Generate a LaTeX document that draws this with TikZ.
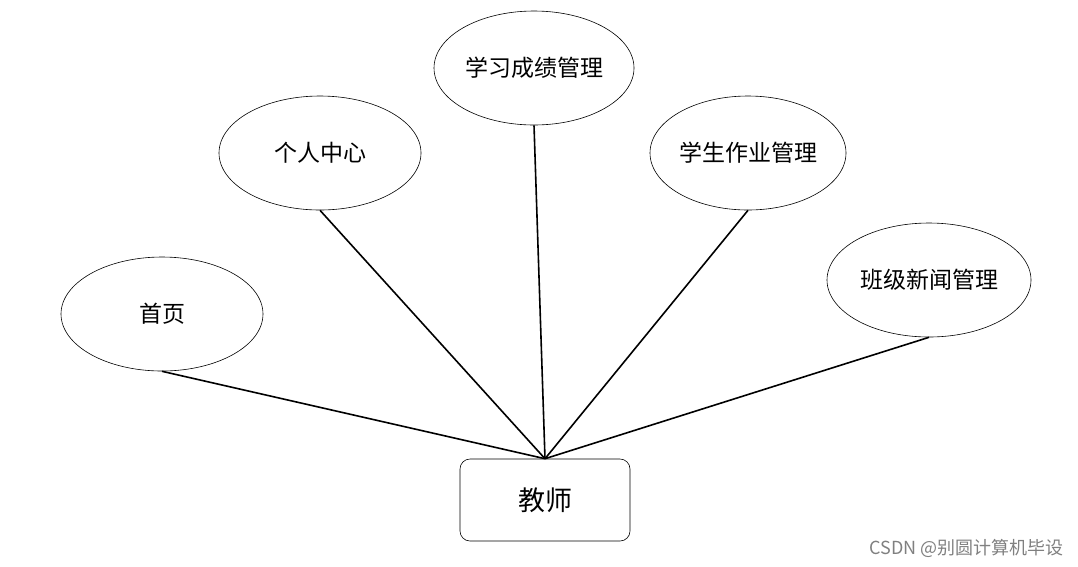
\documentclass[tikz,border=0pt]{standalone}
\usepackage{fontspec}
\setmainfont{Liberation Serif}
\newfontfamily\cjk{Noto Sans CJK SC}
\usetikzlibrary{shapes.geometric}
\begin{document}
\begin{tikzpicture}[x=1pt,y=-1pt,
  ell/.style={ellipse,draw,line width=0.6pt,minimum width=202pt,minimum height=114pt,inner sep=0pt,font=\cjk\fontsize{23}{26}\selectfont},
  link/.style={line width=1.6pt}]
\useasboundingbox (0,0) rectangle (1078,566);
\node[ell] (a) at (162,314) {首页};
\node[ell] (b) at (320,153) {个人中心};
\node[ell,minimum width=200pt] (c) at (534,68) {学习成绩管理};
\node[ell,minimum width=196pt] (d) at (748,153) {学生作业管理};
\node[ell,minimum width=204pt] (e) at (929,280) {班级新闻管理};
\node[draw,rounded corners=10pt,minimum width=170pt,minimum height=82pt,line width=0.6pt,font=\cjk\fontsize{27}{30}\selectfont] (t) at (545,500) {教师};
\foreach \n in {a,b,c,d,e} \draw[link] (\n.south) -- (t.north);
\node[anchor=east,text=gray,font=\cjk\fontsize{18}{20}\selectfont,inner sep=0pt] (w) at (1064,548) {CSDN @别圆计算机毕设};
\end{tikzpicture}
\end{document}
